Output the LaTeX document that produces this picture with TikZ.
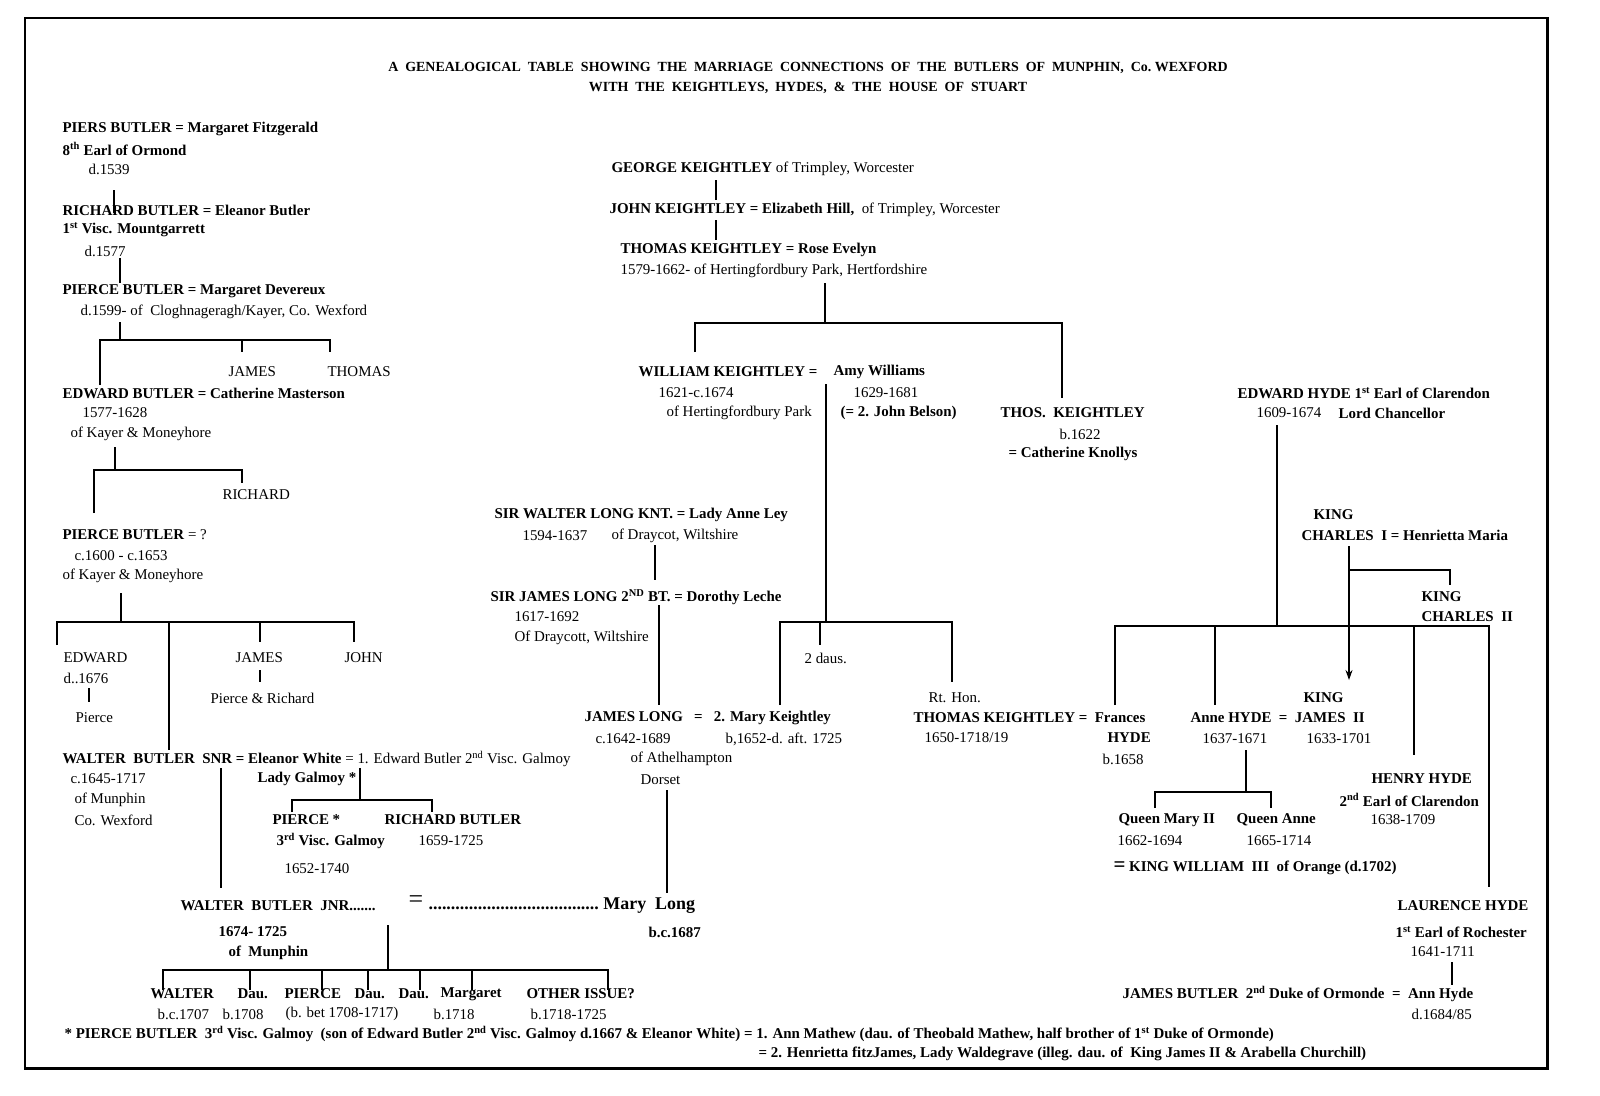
\documentclass[tikz,border=0pt]{standalone}
\usepackage{fontspec}
\setmainfont{Liberation Serif}
\usetikzlibrary{arrows.meta}
\newcommand{\T}[3]{\node[anchor=west,inner sep=0pt] at (#1,#2) {#3};}
\newcommand{\B}[3]{\node[anchor=west,inner sep=0pt,font=\fontsize{15}{16}\selectfont\bfseries] at (#1,#2) {#3};}
\newcommand{\sps}[1]{\textsuperscript{#1}}
\begin{document}
\begin{tikzpicture}[x=1bp,y=-1bp,font=\fontsize{15}{16}\selectfont,line width=1.1pt]
\useasboundingbox (0,0) rectangle (1600,1095);
\fill[white] (0,0) rectangle (1600,1095);
\draw[line width=3pt] (25,18) rectangle (1547,1068);
% title
\node[font=\fontsize{14}{16}\selectfont\bfseries] (t1) at (808,68) {A\ \ GENEALOGICAL\ \ TABLE\ \ SHOWING\ \ THE\ \ MARRIAGE\ \ CONNECTIONS\ \ OF\ \ THE\ \ BUTLERS\ \ OF\ \ MUNPHIN,\ \ Co.\ WEXFORD};
\node[font=\fontsize{14}{16}\selectfont\bfseries] (t2) at (808,88) {WITH\ \ THE\ \ KEIGHTLEYS,\ \ HYDES,\ \ \&\ \ THE\ \ HOUSE\ \ OF\ \ STUART};
% left column
\B{62}{129}{PIERS BUTLER = Margaret Fitzgerald}
\B{62}{149}{8\sps{th} Earl of Ormond}
\T{88}{169}{d.1539}
\draw (114,190)--(114,213);
\B{62}{210}{RICHARD BUTLER = Eleanor Butler}
\B{62}{230}{1\sps{st} Visc. Mountgarrett}
\T{84}{251}{d.1577}
\draw (120,258)--(120,283);
\B{62}{291}{PIERCE BUTLER = Margaret Devereux}
\T{80}{312}{d.1599- of\ \ Cloghnageragh/Kayer, Co. Wexford}
\draw (120,322)--(120,340) (100,385)--(100,340)--(330,340)--(330,352) (242,340)--(242,352);
\T{228}{372}{JAMES}\T{327}{372}{THOMAS}
\B{62}{393}{EDWARD BUTLER = Catherine Masterson}
\T{82}{413}{1577-1628}
\T{70}{434}{of Kayer \& Moneyhore}
\draw (115,447)--(115,470) (94,513)--(94,470)--(242,470)--(242,483);
\T{222}{495}{RICHARD}
\node[anchor=west,inner sep=0pt] at (62,535) {\textbf{PIERCE BUTLER} = ?};
\T{74}{556}{c.1600 - c.1653}
\T{62}{576}{of Kayer \& Moneyhore}
\draw (121,593)--(121,622) (57,645)--(57,622)--(354,622)--(354,642) (169,622)--(169,750) (260,622)--(260,642);
\T{63}{658}{EDWARD}\T{235}{658}{JAMES}\T{344}{658}{JOHN}
\T{63}{678}{d..1676}\draw (260,670)--(260,682);
\T{210}{698}{Pierce \& Richard}
\draw (89,688)--(89,702);
\T{75}{718}{Pierce}
\node[anchor=west,inner sep=0pt] at (62,759) {\textbf{WALTER\ \ BUTLER\ \ SNR = Eleanor White} = 1. Edward Butler 2\sps{nd} Visc. Galmoy};
\B{257}{779}{Lady Galmoy *}
\T{70}{779}{c.1645-1717}\T{74}{800}{of Munphin}\T{74}{820}{Co. Wexford}
\draw (360,768)--(360,800) (292,812)--(292,800)--(432,800)--(432,812);
\B{272}{820}{PIERCE *}\B{384}{820}{RICHARD BUTLER}
\B{276}{841}{3\sps{rd} Visc. Galmoy}\T{418}{841}{1659-1725}
\T{284}{869}{1652-1740}
\draw (221,768)--(221,888);
\B{180}{906}{WALTER\ \ BUTLER\ \ JNR.......}
\node[anchor=west,inner sep=0pt,font=\fontsize{26}{26}\selectfont] at (408,902) {=};
\node[anchor=west,inner sep=0pt,font=\fontsize{18}{20}\selectfont\bfseries] at (428,906) {......................................\ Mary\ \ Long};
\B{218}{932}{1674- 1725}\B{228}{953}{of\ \ Munphin}\B{648}{932}{b.c.1687}
\draw (388,925)--(388,970) (163,990)--(163,970)--(608,970)--(608,990);
\foreach \x in {250,322,368,420,472} \draw (\x,970)--(\x,990);
\B{150}{994}{WALTER}\B{237}{994}{Dau.}\B{284}{994}{PIERCE}\B{354}{994}{Dau.}\B{398}{994}{Dau.}\B{440}{994}{Margaret}\B{526}{994}{OTHER ISSUE?}
\T{157}{1014}{b.c.1707}\T{222}{1014}{b.1708}\T{285}{1014}{(b. bet 1708-1717)}\T{433}{1014}{b.1718}\T{530}{1014}{b.1718-1725}
\B{64}{1034}{* PIERCE BUTLER\ \ 3\sps{rd} Visc. Galmoy\ \ (son of Edward Butler 2\sps{nd} Visc. Galmoy d.1667 \& Eleanor White) = 1. Ann Mathew (dau. of Theobald Mathew, half brother of 1\sps{st} Duke of Ormonde)}
\B{758}{1054}{= 2. Henrietta fitzJames, Lady Waldegrave (illeg. dau. of\ \ King James II \& Arabella Churchill)}
% middle
\node[anchor=west,inner sep=0pt] at (611,169) {\textbf{GEORGE KEIGHTLEY} of Trimpley, Worcester};
\draw (716,180)--(716,200);
\node[anchor=west,inner sep=0pt] at (609,210) {\textbf{JOHN KEIGHTLEY = Elizabeth Hill,}\ \ of Trimpley, Worcester};
\draw (716,220)--(716,240);
\B{620}{250}{THOMAS KEIGHTLEY = Rose Evelyn}
\T{620}{271}{1579-1662- of Hertingfordbury Park, Hertfordshire}
\draw (825,283)--(825,323) (695,352)--(695,323)--(1062,323)--(1062,398);
\B{638}{372}{WILLIAM KEIGHTLEY =}\B{833}{372}{Amy Williams}
\T{658}{393}{1621-c.1674}\T{853}{393}{1629-1681}
\T{666}{413}{of Hertingfordbury Park}\B{840}{413}{(= 2. John Belson)}
\B{1000}{413}{THOS.\ \ KEIGHTLEY}\T{1059}{434}{b.1622}\B{1008}{454}{= Catherine Knollys}
\draw (826,384)--(826,622) (780,705)--(780,622)--(952,622)--(952,682) (820,622)--(820,645);
\T{804}{658}{2 daus.}
\T{928}{698}{Rt. Hon.}
\B{913}{718}{THOMAS KEIGHTLEY =\ \ Frances}\B{1107}{738}{HYDE}\T{1102}{759}{b.1658}
\T{924}{738}{1650-1718/19}
\B{494}{515}{SIR WALTER LONG KNT. = Lady Anne Ley}
\T{522}{536}{1594-1637}\T{611}{536}{of Draycot, Wiltshire}
\draw (655,545)--(655,580);
\B{490}{597}{SIR JAMES LONG 2\sps{ND} BT. = Dorothy Leche}
\T{514}{617}{1617-1692}\T{514}{638}{Of Draycott, Wiltshire}
\draw (659,605)--(659,705);
\B{584}{718}{JAMES LONG\ \ \ =\ \ \ 2. Mary Keightley}
\T{595}{739}{c.1642-1689}\T{725}{739}{b,1652-d. aft. 1725}
\T{630}{759}{of Athelhampton}\T{640}{780}{Dorset}
\draw (667,790)--(667,893);
% right
\B{1237}{393}{EDWARD HYDE 1\sps{st} Earl of Clarendon}
\T{1256}{413}{1609-1674}\B{1338}{413}{Lord Chancellor}
\draw (1277,425)--(1277,626) (1115,705)--(1115,626)--(1489,626)--(1489,887) (1215,626)--(1215,705) (1414,626)--(1414,755);
\B{1313}{515}{KING}\B{1301}{535}{CHARLES\ \ I = Henrietta Maria}
\draw (1349,546)--(1349,570)--(1450,570)--(1450,585);
\draw[-{Stealth[length=10pt,width=7pt]}] (1349,570)--(1349,680);
\B{1421}{597}{KING}\B{1421}{617}{CHARLES\ \ II}
\B{1303}{698}{KING}\B{1190}{718}{Anne HYDE\ \ =\ \ JAMES\ \ II}
\T{1202}{739}{1637-1671}\T{1306}{739}{1633-1701}
\draw (1246,750)--(1246,792) (1155,808)--(1155,792)--(1271,792)--(1271,808);
\B{1118}{820}{Queen Mary II}\B{1236}{820}{Queen Anne}
\T{1117}{841}{1662-1694}\T{1246}{841}{1665-1714}
\node[anchor=west,inner sep=0pt,font=\fontsize{15}{16}\selectfont\bfseries] at (1113,868) {{\fontsize{21}{20}\selectfont =} KING WILLIAM\ \ III\ \ of Orange (d.1702)};
\B{1371}{779}{HENRY HYDE}\B{1339}{800}{2\sps{nd} Earl of Clarendon}\T{1370}{820}{1638-1709}
\B{1397}{906}{LAURENCE HYDE}\B{1395}{932}{1\sps{st} Earl of Rochester}\T{1410}{952}{1641-1711}
\draw (1452,962)--(1452,985);
\B{1122}{994}{JAMES BUTLER\ \ 2\sps{nd} Duke of Ormonde\ \ =\ \ Ann Hyde}
\T{1411}{1014}{d.1684/85}
\end{tikzpicture}
\end{document}
